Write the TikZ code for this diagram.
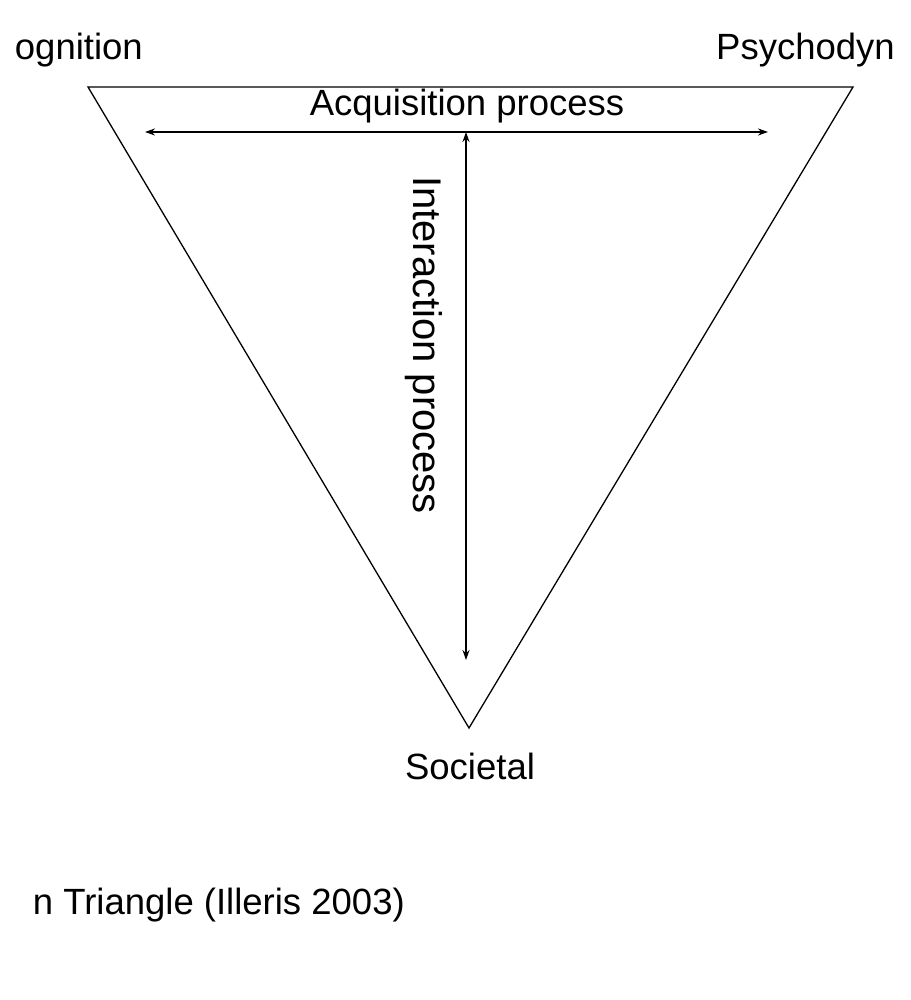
\documentclass[tikz,border=0pt]{standalone}
\usepackage{fontspec}
\setmainfont{Liberation Sans}
\usetikzlibrary{arrows.meta}
\begin{document}
\begin{tikzpicture}[x=1pt,y=1pt,
  lbl/.style={font=\fontsize{36.5}{40}\selectfont,inner sep=0pt},
  arr/.style={line width=1.3pt,{Stealth[length=10pt,width=7pt]}-{Stealth[length=10pt,width=7pt]}}]
\useasboundingbox (0,0) rectangle (910,1000);
\coordinate (tl) at (88,913);
\coordinate (tr) at (853,913);
\coordinate (b) at (469,272);
\draw[line width=1.3pt,line join=miter] (tl) -- (tr) -- (b) -- cycle;
\coordinate (hl) at (145,868);
\coordinate (hr) at (768,868);
\coordinate (vt) at (466,868);
\coordinate (vb) at (466,340);
\draw[arr] (hl) -- (hr);
\draw[arr] (vt) -- (vb);
\node[lbl] (acq) at (467,894) {Acquisition process};
\node[lbl,font=\fontsize{40}{44}\selectfont,rotate=-90] (int) at (424,655) {Interaction process};
\node[lbl] (soc) at (470,234) {Societal};
\node[lbl,anchor=base east] (cog) at (143,940) {ognition};
\node[lbl,anchor=base west] (psy) at (716,940) {Psychodyn};
\node[lbl,anchor=base east] (cap) at (405,85) {n Triangle (Illeris 2003)};
\end{tikzpicture}
\end{document}
